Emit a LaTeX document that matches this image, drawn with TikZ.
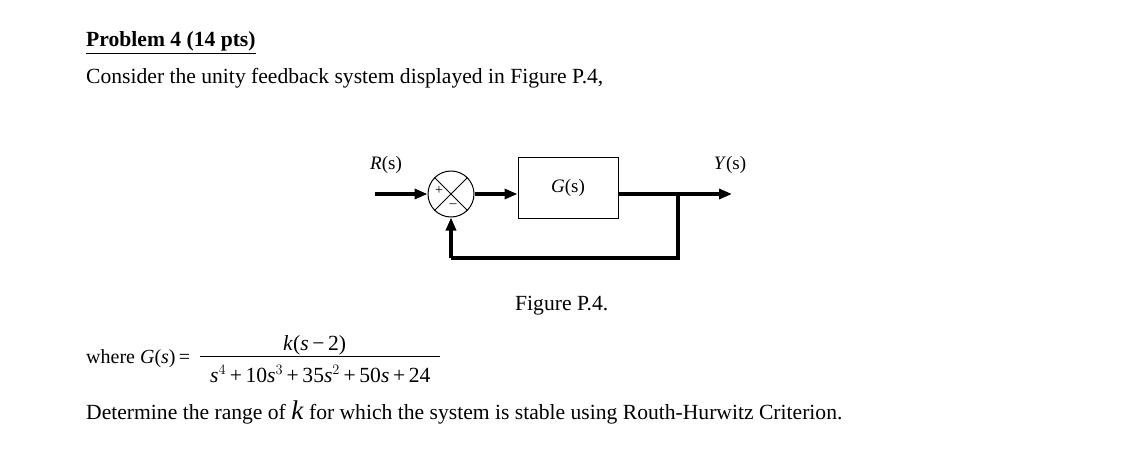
\documentclass[tikz,border=0pt]{standalone}
\usepackage{fontspec}
\setmainfont{Liberation Serif}
\usetikzlibrary{arrows.meta}
\begin{document}
\begin{tikzpicture}[x=1pt,y=-1pt,
  txt/.style={anchor=base west,inner sep=0pt,font=\fontsize{21.6}{24}\selectfont},
  lbl/.style={inner sep=0pt,font=\fontsize{19}{21}\selectfont},
  sig/.style={line width=3.5pt},
  arr/.style={sig,-{Triangle[length=13pt,width=10pt]}}]
\useasboundingbox (0,0) rectangle (1125,468);
\node[txt] (title) at (86,47) {\textbf{\underline{Problem 4 (14 pts)}}};
\node[txt] (intro) at (86,84) {Consider the unity feedback system displayed in Figure P.4,};
% diagram
\coordinate (in) at (375,194);
\node[draw,circle,minimum size=46pt,inner sep=0pt,line width=1pt] (sum) at (451,194) {};
\draw[line width=1pt] (sum.45) -- (sum.225) (sum.135) -- (sum.-45);
\node[font=\fontsize{14}{14}\selectfont,inner sep=0pt] (plus) at (439,191) {+};
\node[font=\fontsize{14}{14}\selectfont,inner sep=0pt] (minus) at (453,206) {–};
\node[draw,line width=1pt,minimum width=100pt,minimum height=60pt,lbl] (G) at (568,188) {\textit{G}(s)};
\coordinate (br) at (678,194);
\coordinate (out) at (732,194);
\coordinate (c1) at (678,258);
\coordinate (c2) at (451,258);
\draw[arr] (in) -- (sum.west);
\draw[arr] (sum.east) -- (G.west |- sum.east);
\draw[arr] (G.east |- br) -- (out);
\draw[sig] (br) -- (c1) -- (c2);
\draw[arr] (c2) -- (sum.south);
\node[lbl] (R) at (386,165) {\textit{R}(s)};
\node[lbl] (Y) at (730,165) {\textit{Y}(s)};
\node[txt] (fig) at (515,310) {Figure P.4.};
% equation
\node[txt,font=\fontsize{20}{22}\selectfont] (where) at (86,363) {where \textit{G}(\textit{s})\,=};
\draw[line width=0.8pt] (200,356) -- (440,356);
\node[txt] (num) at (283,350) {\textit{k}(\textit{s}\,−\,2)};
\node[txt] (den) at (210,382) {\textit{s}$^{\scriptstyle 4}$\,+\,10\textit{s}$^{\scriptstyle 3}$\,+\,35\textit{s}$^{\scriptstyle 2}$\,+\,50\textit{s}\,+\,24};
\node[txt] (det) at (86,419) {Determine the range of {\fontsize{27}{27}\selectfont\textit{k}} for which the system is stable using Routh-Hurwitz Criterion.};
\end{tikzpicture}
\end{document}
